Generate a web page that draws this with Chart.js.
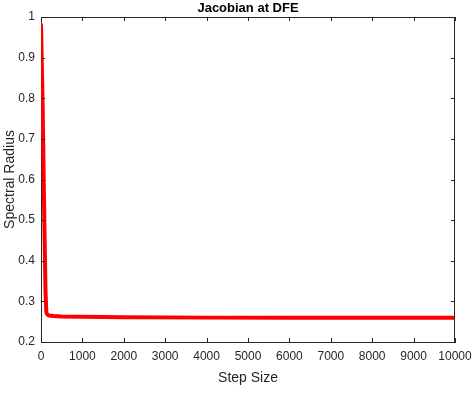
<!DOCTYPE html>
<html>
<head>
<meta charset="utf-8">
<script src="https://cdn.jsdelivr.net/npm/chart.js@4"></script>
<style>
  html, body { margin: 0; padding: 0; background: #fff; }
  #wrap { width: 474px; height: 395px; }
</style>
</head>
<body>
<div id="wrap"><canvas id="chartJac"></canvas></div>
<script>
var titleText = "Jacobian at DFE";
var xLabel = "Step Size";
var yLabel = "Spectral Radius";

var steps = [1, 40, 80, 110, 130, 160, 200, 300, 500, 1000, 2000, 4000, 6000, 8000, 10000];
var radius = [0.98, 0.78, 0.5, 0.32, 0.272, 0.267, 0.265, 0.264, 0.263, 0.262, 0.261, 0.26, 0.26, 0.26, 0.26];

var axisColor = "#262626";
var fontName = "'Liberation Sans', Arial, sans-serif";

var points = [];
for (var i = 0; i < steps.length; i++) {
    points.push({x: steps[i], y: radius[i]});
}

// matlab style box: top/right lines plus inward ticks on all sides, and the title
var boxPlugin = {
    id: "matlabBox",
    afterDraw: function(chart) {
        var ctx = chart.ctx;
        var a = chart.chartArea;
        var xs = chart.scales.x;
        var ys = chart.scales.y;
        ctx.save();
        ctx.strokeStyle = axisColor;
        ctx.lineWidth = 1;
        ctx.beginPath();
        ctx.moveTo(a.left, a.top + 0.5);
        ctx.lineTo(a.right, a.top + 0.5);
        ctx.moveTo(a.right - 0.5, a.top);
        ctx.lineTo(a.right - 0.5, a.bottom);
        xs.ticks.forEach(function(t) {
            var px = Math.round(xs.getPixelForValue(t.value)) + 0.5;
            ctx.moveTo(px, a.bottom);
            ctx.lineTo(px, a.bottom - 4);
            ctx.moveTo(px, a.top);
            ctx.lineTo(px, a.top + 4);
        });
        ys.ticks.forEach(function(t) {
            var py = Math.round(ys.getPixelForValue(t.value)) + 0.5;
            ctx.moveTo(a.left, py);
            ctx.lineTo(a.left + 4, py);
            ctx.moveTo(a.right, py);
            ctx.lineTo(a.right - 4, py);
        });
        ctx.stroke();
        ctx.fillStyle = "#000";
        ctx.font = "bold 13px " + fontName;
        ctx.textAlign = "center";
        ctx.textBaseline = "alphabetic";
        ctx.fillText(titleText, (a.left + a.right) / 2, 12);
        ctx.restore();
    }
};

var ctx = document.getElementById("chartJac").getContext("2d");
var config = {
    type: "line",
    data: {
        datasets: [{
            label: yLabel,
            data: points,
            borderColor: "#ff0000",
            backgroundColor: "#ff0000",
            borderWidth: 4,
            borderJoinStyle: "round",
            borderCapStyle: "round",
            pointRadius: 0,
            tension: 0,
            fill: false
        }]
    },
    options: {
        responsive: true,
        maintainAspectRatio: false,
        animation: false,
        layout: { padding: { left: 0, right: 19, top: 17, bottom: 0 } },
        plugins: {
            legend: { display: false },
            title: { display: false },
            tooltip: { enabled: false }
        },
        scales: {
            x: {
                type: "linear",
                min: 0,
                max: 10000,
                grid: { display: false, drawTicks: false },
                border: { display: true, color: axisColor, width: 1 },
                ticks: {
                    stepSize: 1000,
                    padding: 7,
                    color: axisColor,
                    maxRotation: 0,
                    autoSkip: false,
                    font: { family: fontName, size: 12 },
                    callback: function(v) { return String(v); }
                },
                title: {
                    display: true,
                    text: xLabel,
                    color: axisColor,
                    font: { family: fontName, size: 14 },
                    padding: { top: 0, bottom: 8 }
                },
                afterFit: function(scale) {
                    scale.height = 53;
                    scale.paddingLeft = 0;
                    scale.paddingRight = 0;
                }
            },
            y: {
                min: 0.2,
                max: 1,
                grid: { display: false, drawTicks: false },
                border: { display: true, color: axisColor, width: 1 },
                ticks: {
                    stepSize: 0.1,
                    padding: 6,
                    color: axisColor,
                    autoSkip: false,
                    font: { family: fontName, size: 12 },
                    callback: function(v) { return String(+v.toFixed(1)); }
                },
                title: {
                    display: true,
                    text: yLabel,
                    color: axisColor,
                    font: { family: fontName, size: 14 },
                    padding: { top: 2, bottom: 0 }
                },
                afterFit: function(scale) {
                    scale.width = 41;
                    scale.paddingTop = 0;
                    scale.paddingBottom = 0;
                }
            }
        }
    },
    plugins: [boxPlugin]
};

var jacChart = new Chart(ctx, config);
</script>
</body>
</html>
